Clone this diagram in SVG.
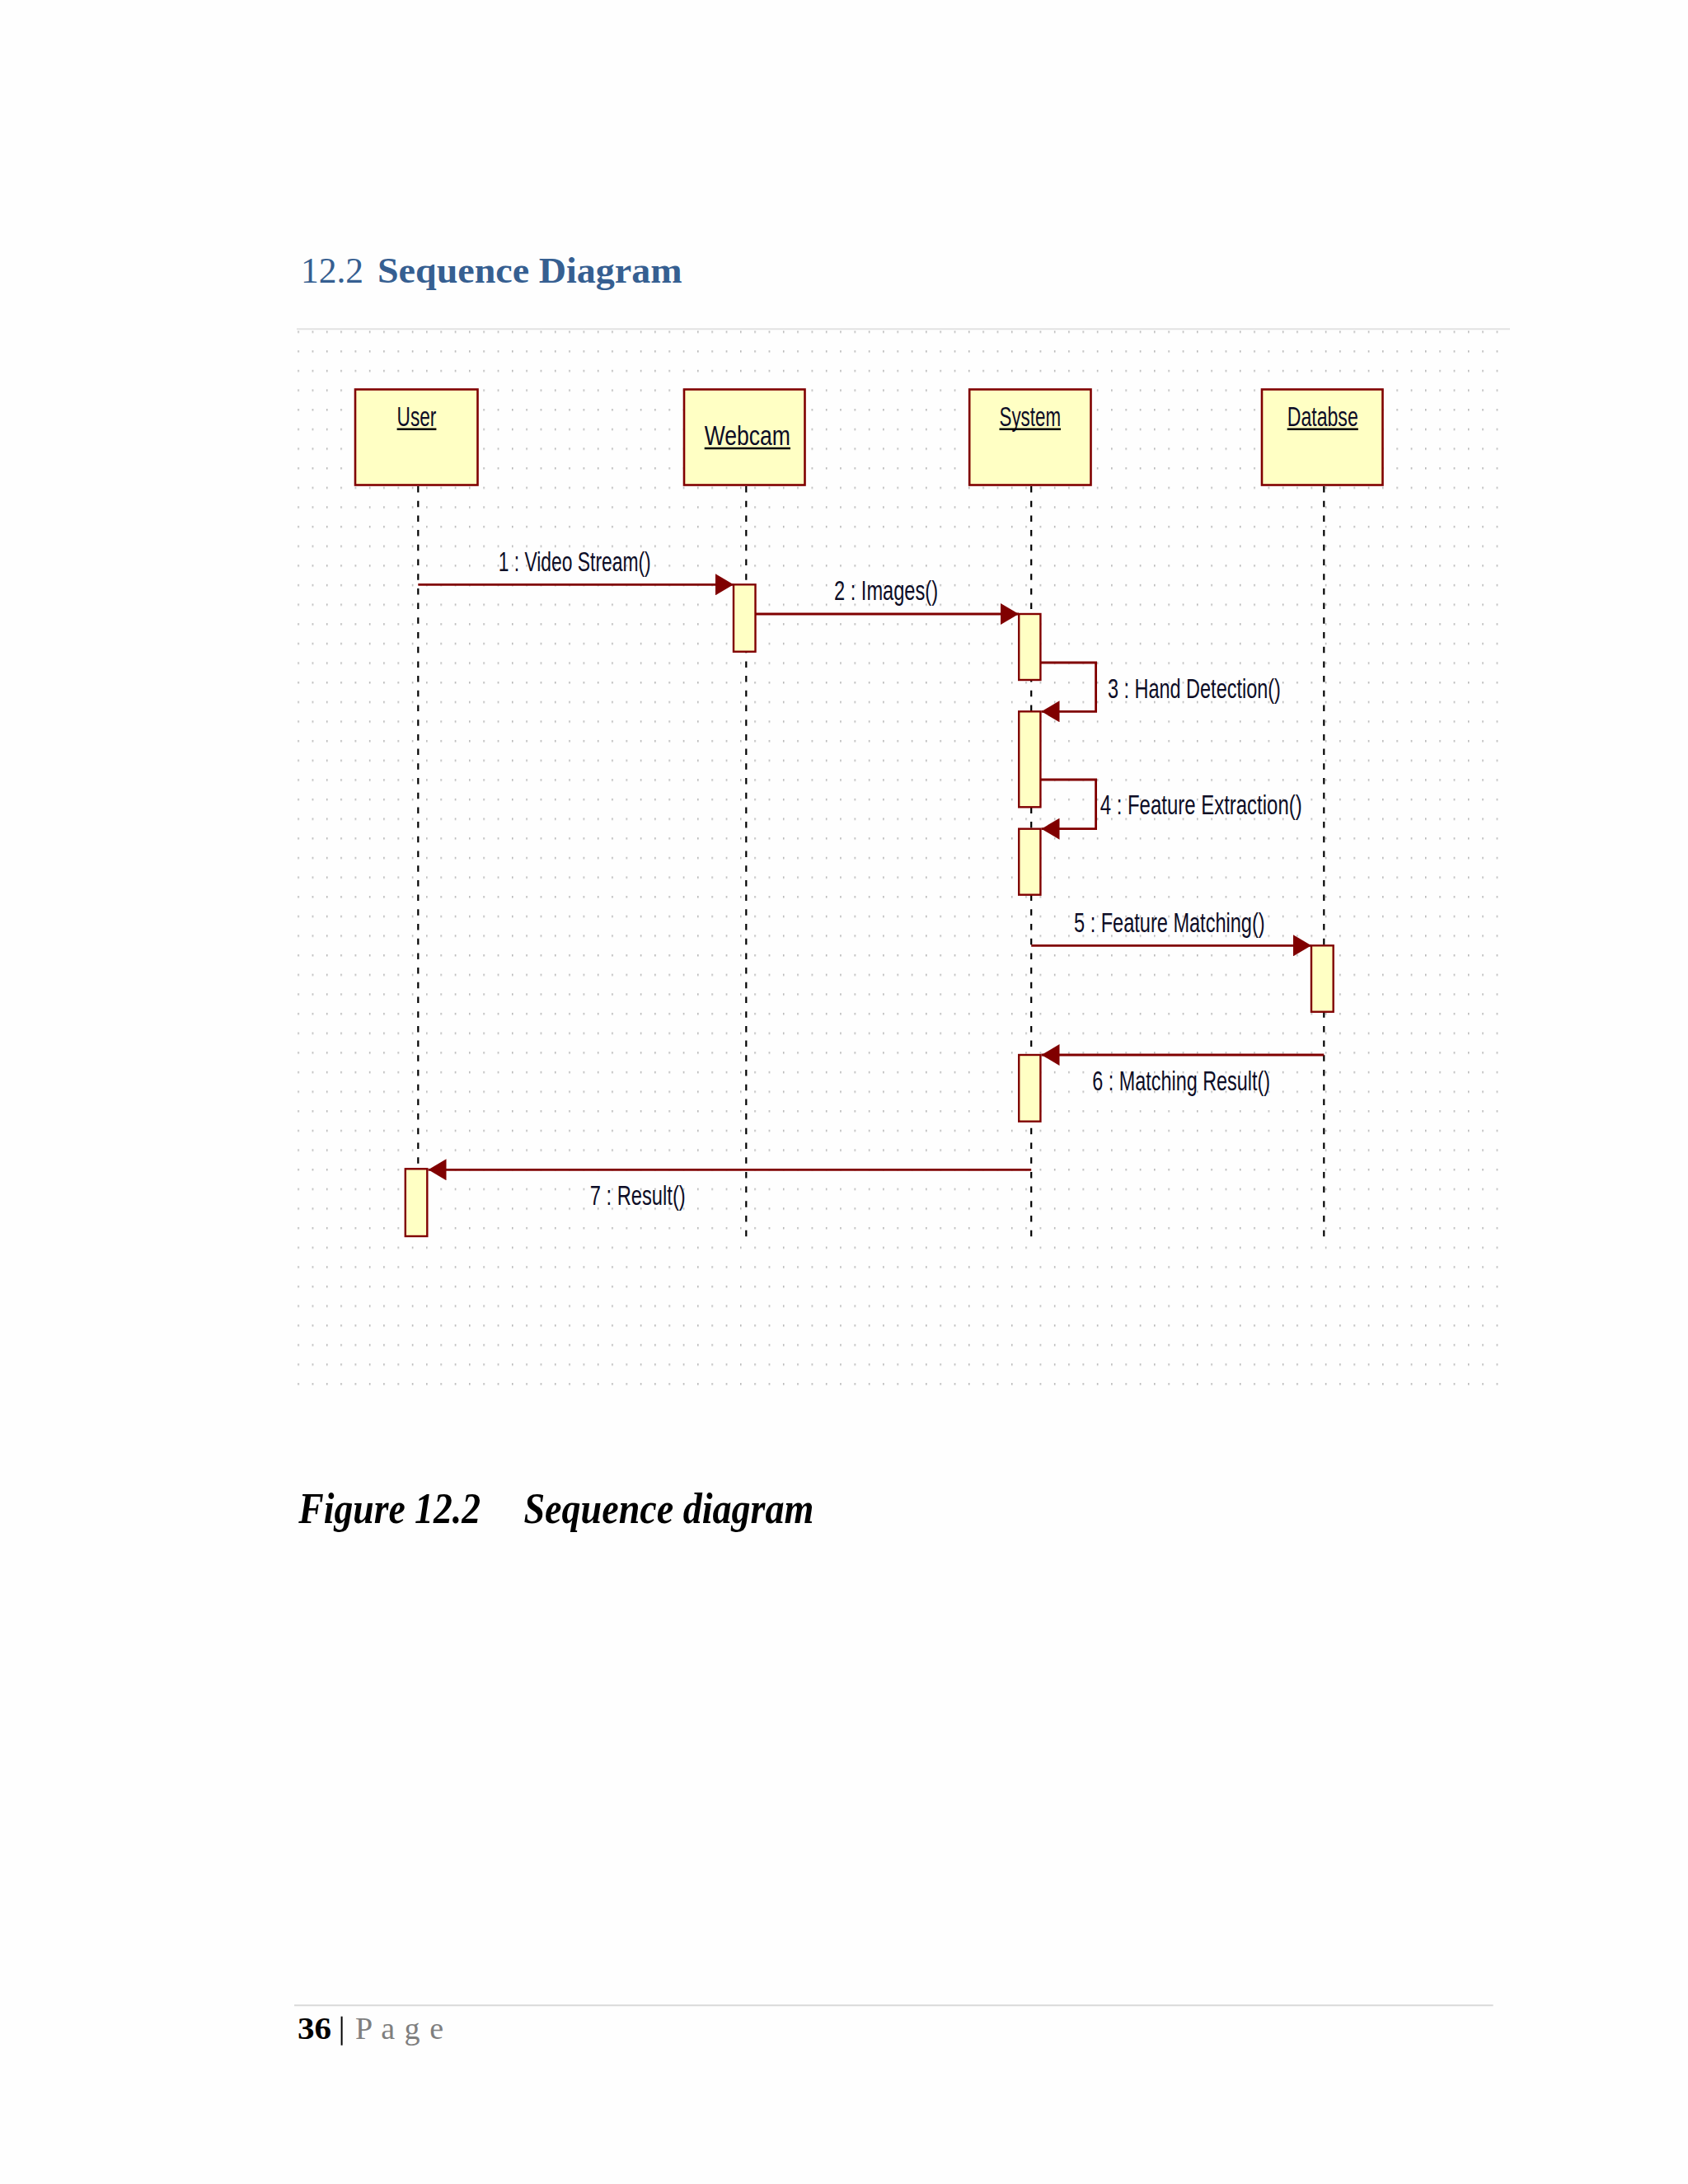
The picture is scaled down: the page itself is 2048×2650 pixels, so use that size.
<svg xmlns="http://www.w3.org/2000/svg" width="2048" height="2650" viewBox="0 0 2048 2650">
<style>
.obj{fill:#FFFFC4;stroke:#800000;stroke-width:2.6}
.act{fill:#FFFFC4;stroke:#800000;stroke-width:2.4}
.life{stroke:#000;stroke-width:2.2;stroke-dasharray:7.5 10.2;fill:none}
.msg{stroke:#800000;stroke-width:2.8;fill:none;marker-end:url(#ah)}
.lbl{font-family:"Liberation Sans",Arial,sans-serif;font-size:33px;fill:#0d0d26}
.ul{stroke:#000;stroke-width:2.6}
</style>
<defs>
<marker id="ah" markerUnits="userSpaceOnUse" markerWidth="22" markerHeight="26" viewBox="0 0 22 26" refX="22" refY="13" orient="auto">
<path d="M0,0 L22,13 L0,26 Z" fill="#800000"/>
</marker>
<pattern id="dots" patternUnits="userSpaceOnUse" x="361.3" y="401.5" width="17.313" height="23.64">
<rect x="0" y="0" width="1.5" height="2.5" fill="#b4b4b4"/>
</pattern>
</defs>
<rect width="2048" height="2650" fill="#fefefe"/>
<text x="365" y="342.7" font-family="'Liberation Serif',serif" font-size="44" fill="#365F91" textLength="76" lengthAdjust="spacingAndGlyphs">12.2</text>
<text x="458" y="342.7" font-family="'Liberation Serif',serif" font-size="44" font-weight="bold" fill="#365F91" textLength="369.5" lengthAdjust="spacingAndGlyphs">Sequence Diagram</text>
<g id="grid">
<line x1="360" y1="399.3" x2="1832" y2="399.3" stroke="#e2e2e2" stroke-width="2"/>
<rect x="360" y="400" width="1460" height="1283" fill="url(#dots)"/>
</g>
<g id="user">
<line class="life" x1="507.3" y1="590" x2="507.3" y2="1503.5"/>
<rect class="obj" x="431" y="472.5" width="148.5" height="116"/>
<text class="lbl" x="481.6" y="516.7" textLength="47.8" lengthAdjust="spacingAndGlyphs">User</text>
<line class="ul" x1="481.6" y1="520.7" x2="529.4" y2="520.7"/>
<rect class="act" x="491.8" y="1418.3" width="26.5" height="81.7"/>
</g>
<g id="webcam">
<line class="life" x1="905.3" y1="590" x2="905.3" y2="1503.5"/>
<rect class="obj" x="830" y="472.5" width="146.5" height="116"/>
<text class="lbl" x="854.7" y="540" textLength="104.3" lengthAdjust="spacingAndGlyphs">Webcam</text>
<line class="ul" x1="854.7" y1="544" x2="959" y2="544"/>
<rect class="act" x="890" y="709.3" width="26.5" height="81.4"/>
</g>
<g id="system">
<line class="life" x1="1251.2" y1="590" x2="1251.2" y2="1503.5"/>
<rect class="obj" x="1176.2" y="472.5" width="147.3" height="116"/>
<text class="lbl" x="1212.5" y="516.7" textLength="74.5" lengthAdjust="spacingAndGlyphs">System</text>
<line class="ul" x1="1212.5" y1="520.7" x2="1287" y2="520.7"/>
<rect class="act" x="1236.2" y="745" width="26.2" height="80"/>
<rect class="act" x="1236.2" y="863.3" width="26.2" height="116"/>
<rect class="act" x="1236.2" y="1005.7" width="26.2" height="80"/>
<rect class="act" x="1236.2" y="1280" width="26.2" height="80.7"/>
</g>
<g id="database">
<line class="life" x1="1606.3" y1="590" x2="1606.3" y2="1503.5"/>
<rect class="obj" x="1531" y="472.5" width="146.5" height="116"/>
<text class="lbl" x="1561.7" y="516.7" textLength="86.1" lengthAdjust="spacingAndGlyphs">Databse</text>
<line class="ul" x1="1561.7" y1="520.7" x2="1647.8" y2="520.7"/>
<rect class="act" x="1591" y="1147.3" width="26.7" height="80.4"/>
</g>
<g id="connectors">
<line class="msg" x1="507.3" y1="709.3" x2="890" y2="709.3"/>
<text class="lbl" x="604.7" y="692.7" textLength="185" lengthAdjust="spacingAndGlyphs">1 : Video Stream()</text>
<line class="msg" x1="916.5" y1="745" x2="1236" y2="745"/>
<text class="lbl" x="1012" y="728.3" textLength="126" lengthAdjust="spacingAndGlyphs">2 : Images()</text>
<polyline class="msg" points="1262.4,804 1329.6,804 1329.6,863.3 1263.5,863.3"/>
<text class="lbl" x="1343.9" y="846.7" textLength="210" lengthAdjust="spacingAndGlyphs">3 : Hand Detection()</text>
<polyline class="msg" points="1262.4,946 1329.6,946 1329.6,1005.7 1263.5,1005.7"/>
<text class="lbl" x="1334.7" y="988.3" textLength="245" lengthAdjust="spacingAndGlyphs">4 : Feature Extraction()</text>
<line class="msg" x1="1251.2" y1="1147.3" x2="1591" y2="1147.3"/>
<text class="lbl" x="1303" y="1130.7" textLength="231.6" lengthAdjust="spacingAndGlyphs">5 : Feature Matching()</text>
<line class="msg" x1="1606.3" y1="1280" x2="1263.5" y2="1280"/>
<text class="lbl" x="1325.3" y="1323.3" textLength="215.7" lengthAdjust="spacingAndGlyphs">6 : Matching Result()</text>
<line class="msg" x1="1251.2" y1="1419.3" x2="519.5" y2="1419.3"/>
<text class="lbl" x="715.7" y="1461.7" textLength="116" lengthAdjust="spacingAndGlyphs">7 : Result()</text>
</g>
<text x="362.3" y="1848.3" font-family="'Liberation Serif',serif" font-size="53" font-weight="bold" font-style="italic" fill="#000" textLength="220.7" lengthAdjust="spacingAndGlyphs">Figure 12.2</text>
<text x="635.5" y="1848.3" font-family="'Liberation Serif',serif" font-size="53" font-weight="bold" font-style="italic" fill="#000" textLength="351.8" lengthAdjust="spacingAndGlyphs">Sequence diagram</text>
<line x1="357" y1="2433.3" x2="1811.6" y2="2433.3" stroke="#d9d9d9" stroke-width="2"/>
<text x="361" y="2474" font-family="'Liberation Serif',serif" font-size="38" font-weight="bold" fill="#000" textLength="41" lengthAdjust="spacingAndGlyphs">36</text>
<line x1="414.6" y1="2446.7" x2="414.6" y2="2481.7" stroke="#000" stroke-width="2"/>
<text x="431" y="2474" font-family="'Liberation Serif',serif" font-size="38" fill="#7f7f7f" textLength="107" lengthAdjust="spacing">P a g e</text>
</svg>
